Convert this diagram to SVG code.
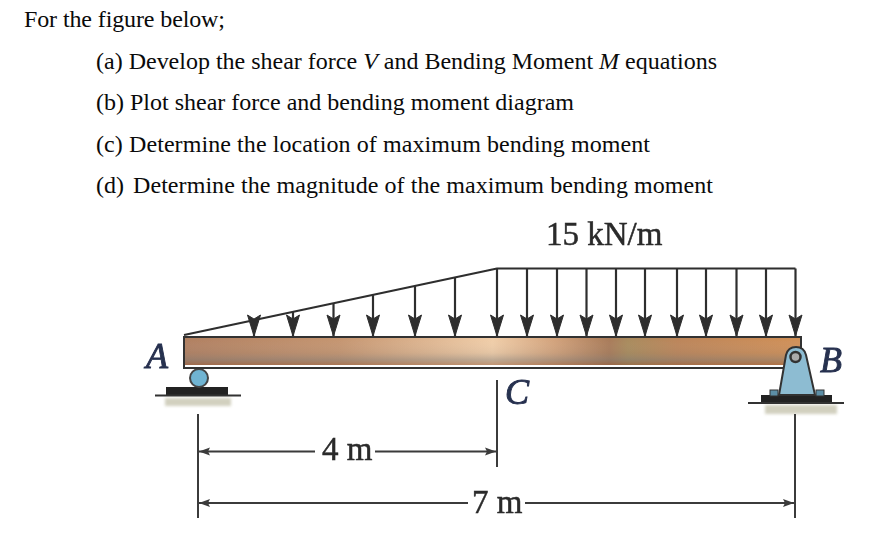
<svg xmlns="http://www.w3.org/2000/svg" width="884" height="534" viewBox="0 0 884 534">
<style>
text{font-family:"Liberation Serif","Times New Roman",serif;fill:#0a0a0a}
.q{font-size:24px}
.l{font-size:33px;fill:#2a2a2a;stroke:#2a2a2a;stroke-width:.5}
.n{font-size:36px;font-style:italic;fill:#26304f;stroke:#26304f;stroke-width:.9}
.c{stroke:#2e2e2e;stroke-width:2.200;fill:none}
.d{stroke:#3a3a3a;stroke-width:2;fill:none}
</style>
<defs>
<marker id="h" markerUnits="userSpaceOnUse" markerWidth="16" markerHeight="24" refX="6.5" refY="21" orient="0" overflow="visible"><path d="M0 0L6.500 4L13 0L6.500 21Z" fill="#2e2e2e" stroke="#2e2e2e" stroke-width="1"/></marker>
<marker id="e" markerUnits="userSpaceOnUse" markerWidth="12" markerHeight="9" refX="11" refY="4.500" orient="auto-start-reverse"><path d="M0 0.500L11 4.500L0 8.500L2 4.500Z" fill="#3a3a3a"/></marker>
<linearGradient id="bx" x1="0" x2="1" y1="0" y2="0">
<stop offset="0" stop-color="#b07f60"/><stop offset=".25" stop-color="#c4946f"/><stop offset=".5" stop-color="#f0cda8"/><stop offset=".6" stop-color="#d2a27b"/><stop offset=".69" stop-color="#a87a58"/><stop offset=".72" stop-color="#a88a5c"/><stop offset=".8" stop-color="#bb8458"/><stop offset="1" stop-color="#d08f56"/>
</linearGradient>
<linearGradient id="by" x1="0" x2="0" y1="0" y2="1">
<stop offset="0" stop-color="#fff" stop-opacity="0"/><stop offset=".55" stop-color="#888" stop-opacity=".12"/><stop offset=".8" stop-color="#777" stop-opacity=".4"/><stop offset="1" stop-color="#8a4f2f" stop-opacity=".45"/>
</linearGradient>
<filter id="s" filterUnits="userSpaceOnUse" x="130" y="210" width="740" height="320"><feGaussianBlur stdDeviation=".6"/></filter>
<filter id="g" x="-10%" y="-50%" width="120%" height="200%"><feGaussianBlur stdDeviation="1.800"/></filter>
</defs>
<g id="question">
<text class="q" x="24" y="27" textLength="201">For the figure below;</text>
<text class="q" x="96" y="69" textLength="621">(a) Develop the shear force <tspan font-style="italic">V</tspan> and Bending Moment <tspan font-style="italic">M</tspan> equations</text>
<text class="q" x="96" y="110" textLength="478">(b) Plot shear force and bending moment diagram</text>
<text class="q" x="96" y="152" textLength="554">(c) Determine the location of maximum bending moment</text>
<text class="q" x="96" y="193">(d)</text>
<text class="q" x="133" y="193" textLength="580">Determine the magnitude of the maximum bending moment</text>
</g>
<g filter="url(#s)">
<g id="ground-a"><rect x="165" y="398" width="66" height="8" fill="#d2d0bf" filter="url(#g)"/><rect x="166" y="387" width="62" height="9" fill="#222"/><path d="M155 395.500H241" stroke="#333" stroke-width="2"/><circle cx="199" cy="378" r="9" fill="#6fb4d2" stroke="#444" stroke-width="2"/></g>
<g id="beam"><rect x="184" y="337" width="617" height="31" fill="#fff" stroke="#333" stroke-width="2"/><rect x="185" y="338" width="615" height="27" fill="url(#bx)"/><rect x="185" y="338" width="615" height="27" fill="url(#by)"/></g>
<g id="load" class="connectors">
<path class="c" d="M184 335L497 268.500H795.500" stroke-linejoin="round"/>
<g class="c">
<path d="M254 320V336" marker-end="url(#h)"/><path d="M293 312V336" marker-end="url(#h)"/><path d="M333.500 304V336" marker-end="url(#h)"/><path d="M373 295V336" marker-end="url(#h)"/><path d="M415 286V336" marker-end="url(#h)"/><path d="M455 277V336" marker-end="url(#h)"/><path d="M497 268.500V336" marker-end="url(#h)"/>
<path d="M527 268.500V336" marker-end="url(#h)"/><path d="M557 268.500V336" marker-end="url(#h)"/><path d="M586.500 268.500V336" marker-end="url(#h)"/><path d="M616 268.500V336" marker-end="url(#h)"/><path d="M645 268.500V336" marker-end="url(#h)"/><path d="M677 268.500V336" marker-end="url(#h)"/><path d="M706 268.500V336" marker-end="url(#h)"/><path d="M736.500 268.500V336" marker-end="url(#h)"/><path d="M766 268.500V336" marker-end="url(#h)"/><path d="M795.500 268.500V336" marker-end="url(#h)"/>
</g>
</g>
<g id="support-b">
<rect x="765" y="405" width="72" height="9" fill="#d2d0bf" filter="url(#g)"/>
<rect x="761" y="395" width="71" height="8" fill="#222"/>
<path d="M748 403H844" stroke="#333" stroke-width="2"/>
<rect x="770" y="390" width="8" height="6" fill="#5b8ea6" stroke="#333"/><rect x="816" y="390" width="8" height="6" fill="#5b8ea6" stroke="#333"/>
<path d="M779 395L786 355Q788 347 796 347Q804 347 806 355L815 395Z" fill="#8dbcd2" stroke="#333" stroke-width="2"/>
<circle cx="795.500" cy="357" r="5" fill="#aaa" stroke="#333" stroke-width="2.500"/>
</g>
<g id="dimensions">
<path class="d" d="M198 414V518M497 380V467M795 414V518"/>
<path class="d" d="M199 451.500H315" marker-start="url(#e)"/><path class="d" d="M375 451.500H496" marker-end="url(#e)"/>
<path class="d" d="M199 503H468" marker-start="url(#e)"/><path class="d" d="M525 503H794" marker-end="url(#e)"/>
</g>
<g id="labels">
<text class="n" x="146" y="368">A</text>
<text class="n" x="820" y="372">B</text>
<text class="n" x="505" y="404">C</text>
<text class="l" x="546" y="245">15 kN/m</text>
<text class="l" x="322" y="460">4 m</text>
<text class="l" x="472" y="513">7 m</text>
</g>
</g>
</svg>
